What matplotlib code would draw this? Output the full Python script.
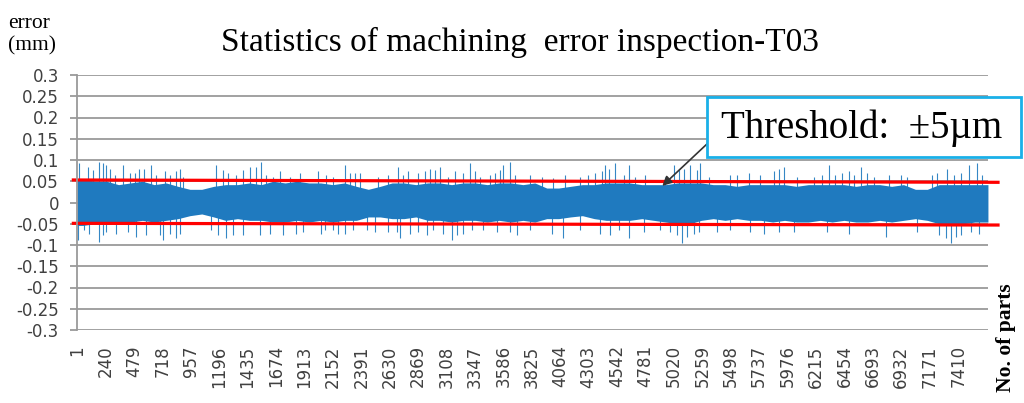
import numpy as np
import matplotlib.pyplot as plt
from matplotlib.patches import Rectangle
from matplotlib.transforms import blended_transform_factory

# data
n_parts = 7660
tick_parts = list(range(1, 7411, 239))
y_ticks = [0.3, 0.25, 0.2, 0.15, 0.1, 0.05, 0, -0.05, -0.1, -0.15, -0.2, -0.25, -0.3]
y_labels = ['0.3', '0.25', '0.2', '0.15', '0.1', '0.05', '0', '-0.05', '-0.1', '-0.15', '-0.2', '-0.25', '-0.3']

# dense band of the error signal, upper / lower edge every 100 parts
band_parts = np.arange(77) * 100 + 50
band_hi = [0.055, 0.050, 0.050, 0.042, 0.046, 0.050, 0.042, 0.046, 0.038, 0.031, 0.031,
           0.038, 0.042, 0.042, 0.046, 0.042, 0.050, 0.046, 0.050, 0.046, 0.046, 0.042,
           0.046, 0.038, 0.031, 0.038, 0.046, 0.046, 0.042, 0.046, 0.046, 0.042, 0.046,
           0.046, 0.042, 0.046, 0.046, 0.042, 0.046, 0.034, 0.034, 0.038, 0.042, 0.042,
           0.046, 0.046, 0.046, 0.042, 0.042, 0.042, 0.046, 0.046, 0.046, 0.042, 0.042,
           0.038, 0.042, 0.042, 0.042, 0.042, 0.038, 0.042, 0.042, 0.042, 0.042, 0.038,
           0.042, 0.042, 0.038, 0.042, 0.031, 0.031, 0.042, 0.042, 0.042, 0.042, 0.042]
band_lo = [-0.054, -0.050, -0.050, -0.046, -0.046, -0.042, -0.046, -0.042, -0.038, -0.031,
           -0.027, -0.034, -0.042, -0.038, -0.042, -0.042, -0.046, -0.046, -0.042, -0.046,
           -0.042, -0.046, -0.042, -0.042, -0.034, -0.034, -0.038, -0.038, -0.034, -0.042,
           -0.042, -0.046, -0.042, -0.042, -0.046, -0.042, -0.046, -0.042, -0.046, -0.038,
           -0.038, -0.034, -0.031, -0.038, -0.042, -0.042, -0.042, -0.038, -0.042, -0.046,
           -0.050, -0.050, -0.042, -0.038, -0.042, -0.038, -0.042, -0.042, -0.046, -0.042,
           -0.046, -0.046, -0.042, -0.046, -0.042, -0.046, -0.046, -0.042, -0.046, -0.042,
           -0.038, -0.042, -0.050, -0.050, -0.050, -0.046, -0.046]

# single parts sticking out of the band
up_parts = [21, 91, 133, 184, 217, 246, 274, 316, 386, 442, 484, 526, 568, 624, 667, 737, 779,
            835, 863, 891, 1172, 1228, 1270, 1340, 1396, 1452, 1509, 1551, 1593, 1649, 1705,
            1789, 1873, 2028, 2098, 2154, 2252, 2294, 2337, 2379, 2533, 2617, 2701, 2744, 2786,
            2870, 2926, 2968, 3010, 3052, 3122, 3179, 3249, 3305, 3347, 3389, 3473, 3515, 3557,
            3585, 3642, 3684, 3810, 3908, 4006, 4105, 4231, 4301, 4357, 4414, 4442, 4470, 4526,
            4596, 4638, 4694, 4778, 4947, 5017, 5059, 5101, 5157, 5213, 5241, 5312, 5494, 5550,
            5648, 5747, 5859, 5901, 5943, 6055, 6196, 6266, 6322, 6378, 6434, 6490, 6532, 6589,
            6645, 6701, 6827, 6925, 6982, 7192, 7234, 7318, 7374, 7431, 7501, 7571, 7613]
up_vals = [0.092, 0.084, 0.076, 0.096, 0.092, 0.088, 0.080, 0.065, 0.088, 0.069, 0.069, 0.080,
           0.080, 0.088, 0.065, 0.073, 0.065, 0.073, 0.080, 0.061, 0.088, 0.076, 0.069, 0.065,
           0.076, 0.084, 0.084, 0.096, 0.065, 0.061, 0.073, 0.061, 0.069, 0.073, 0.065, 0.061,
           0.088, 0.069, 0.069, 0.069, 0.061, 0.065, 0.084, 0.065, 0.073, 0.069, 0.073, 0.080,
           0.076, 0.084, 0.061, 0.073, 0.069, 0.092, 0.073, 0.061, 0.065, 0.069, 0.076, 0.088,
           0.096, 0.065, 0.065, 0.061, 0.057, 0.065, 0.061, 0.065, 0.069, 0.073, 0.088, 0.080,
           0.092, 0.065, 0.088, 0.061, 0.065, 0.061, 0.088, 0.076, 0.080, 0.088, 0.076, 0.092,
           0.061, 0.065, 0.065, 0.069, 0.065, 0.073, 0.080, 0.084, 0.061, 0.061, 0.065, 0.088,
           0.065, 0.069, 0.073, 0.065, 0.084, 0.069, 0.061, 0.065, 0.065, 0.061, 0.065, 0.069,
           0.080, 0.065, 0.069, 0.088, 0.092, 0.065]
down_parts = [7, 63, 105, 189, 217, 246, 330, 428, 498, 582, 695, 723, 779, 835, 863, 1130, 1186,
              1256, 1312, 1396, 1537, 1621, 1733, 1845, 1902, 2056, 2084, 2154, 2196, 2252, 2323,
              2435, 2505, 2617, 2687, 2715, 2800, 2870, 2940, 2996, 3080, 3150, 3193, 3249, 3319,
              3417, 3529, 3642, 3698, 3810, 3993, 4091, 4231, 4399, 4484, 4554, 4638, 4764, 4905,
              4989, 5045, 5087, 5129, 5185, 5227, 5382, 5494, 5662, 5775, 5901, 6027, 6308, 6490,
              6799, 7066, 7248, 7304, 7346, 7389, 7431, 7515, 7585]
down_vals = [-0.088, -0.065, -0.073, -0.092, -0.076, -0.069, -0.073, -0.069, -0.080, -0.076,
             -0.076, -0.088, -0.073, -0.084, -0.073, -0.065, -0.076, -0.084, -0.076, -0.076,
             -0.076, -0.073, -0.076, -0.073, -0.069, -0.073, -0.065, -0.065, -0.073, -0.073,
             -0.065, -0.065, -0.069, -0.069, -0.069, -0.084, -0.073, -0.069, -0.076, -0.065,
             -0.073, -0.088, -0.076, -0.073, -0.065, -0.065, -0.069, -0.069, -0.076, -0.065,
             -0.073, -0.084, -0.065, -0.073, -0.076, -0.065, -0.084, -0.069, -0.065, -0.069,
             -0.076, -0.096, -0.080, -0.073, -0.069, -0.069, -0.065, -0.069, -0.073, -0.069,
             -0.069, -0.069, -0.073, -0.080, -0.069, -0.076, -0.084, -0.096, -0.080, -0.076,
             -0.069, -0.073]

# hand drawn threshold lines (value at left end, value at right end)
thr_upper = [0.053, 0.0475]
thr_lower = [-0.049, -0.053]
arrow_part, arrow_val = 4922, 0.039

blue = '#1f7abf'
grid_gray = '#9a9a9a'

fig = plt.figure(figsize=(10.24, 4.03), dpi=100)
ax = fig.add_axes([77 / 1024, 1 - 330 / 403, 911 / 1024, 255 / 403])

bx = np.r_[1, band_parts, n_parts]
ax.fill_between(bx, np.r_[band_lo[0], band_lo, band_lo[-1]], np.r_[band_hi[0], band_hi, band_hi[-1]],
                color=blue, lw=0)
ax.vlines(up_parts, 0, up_vals, color=blue, lw=0.8, alpha=0.9)
ax.vlines(down_parts, down_vals, 0, color=blue, lw=0.8, alpha=0.9)

ax.set_xlim(0.5, n_parts + 0.5)
ax.set_ylim(-0.3, 0.3)
ax.set_yticks(y_ticks)
ax.set_yticklabels(y_labels)
ax.set_xticks(tick_parts)
ax.set_xticklabels([str(t) for t in tick_parts], rotation=90)

ax.yaxis.grid(True, color=grid_gray, lw=1.3)
ax.set_axisbelow(True)
for s in ['top', 'right', 'bottom']:
    ax.spines[s].set_visible(False)
ax.spines['left'].set_color(grid_gray)
ax.spines['left'].set_linewidth(1.3)
ax.tick_params(axis='y', length=5, width=1.3, color=grid_gray, pad=8,
               labelsize=12, labelcolor='#404040')
ax.tick_params(axis='x', length=0, pad=11, labelsize=12, labelcolor='#404040')

# red threshold lines run a little past the plot area
trans = blended_transform_factory(ax.transAxes, ax.transData)
ax.plot([-0.004, 1.011], thr_upper, color='#ff0000', lw=2.3, transform=trans, clip_on=False)
ax.plot([-0.004, 1.011], thr_lower, color='#ff0000', lw=2.3, transform=trans, clip_on=False)

# threshold callout
box = Rectangle((707 / 1024, 1 - 157 / 403), 314 / 1024, 60 / 403, transform=fig.transFigure,
                fc='white', ec='#1ab0e8', lw=2, zorder=5)
fig.patches.append(box)
fig.text(862 / 1024, 1 - 128 / 403, 'Threshold:  \u00b15\u00b5m', ha='center', va='center',
         family='Liberation Serif', fontsize=28, zorder=6)
ax.annotate('', xy=(arrow_part, arrow_val), xycoords='data',
            xytext=(708 / 1024, 1 - 143 / 403), textcoords='figure fraction',
            arrowprops=dict(arrowstyle='-|>', color='#333333', lw=1.2,
                            mutation_scale=14, shrinkA=0, shrinkB=0))

fig.text(520 / 1024, 1 - 42 / 403, 'Statistics of machining  error inspection-T03',
         ha='center', va='center', family='Liberation Serif', fontsize=24)
fig.text(8 / 1024, 1 - 35 / 403, 'error\n(mm)', ha='left', va='center',
         family='Liberation Serif', fontsize=15.5, linespacing=1.2)
fig.text(1006 / 1024, 1 - 338 / 403, 'No. of parts', rotation=90, ha='center', va='center',
         family='Liberation Serif', fontsize=15.5, fontweight='bold')

fig.savefig('out.png', dpi=100)
